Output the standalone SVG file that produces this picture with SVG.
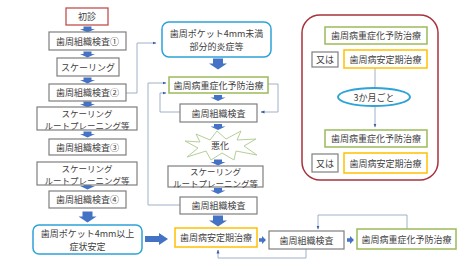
<svg xmlns="http://www.w3.org/2000/svg" width="474" height="266" viewBox="0 0 474 266">
<defs>
<style>
text{font-family:"Noto Sans CJK JP","Noto Sans",sans-serif;font-size:9px;fill:#404040;text-anchor:middle;dominant-baseline:central}
text.s{font-size:8.5px}
.box{fill:#fff;stroke:#7f7f7f;stroke-width:1.2}
.red{fill:#fff;stroke:#c0504d;stroke-width:1.3}
.grn{fill:#fff;stroke:#9bbb59;stroke-width:1.5}
.yel{fill:#fff;stroke:#ffc000;stroke-width:1.5}
.blu{fill:#fff;stroke:#2ea3d8;stroke-width:1.5}
.con{fill:none;stroke:#9fb0c6;stroke-width:1}
.arr{fill:#4472c4}
</style>
<marker id="ah" markerWidth="4" markerHeight="4" refX="3.5" refY="2" orient="auto" markerUnits="userSpaceOnUse">
<path d="M0,0.5 L4,2 L0,3.5 Z" fill="#3a5fa8"/>
</marker>
<path id="sd" d="M-4,0 H4 V2.5 H7.5 L0,6 L-7.5,2.5 H-4 Z"/>
<path id="bd" d="M-5,0 H5 V5 H9 L0,11 L-9,5 H-5 Z"/>
<path id="sr" d="M0,-1.8 H3 V-4 L7,0 L3,4 V1.8 H0 Z"/>
</defs>

<g id="connectors">
<path class="con" d="M126,93 H137 V43 H156" marker-end="url(#ah)"/>
<path class="con" d="M268,84 H278 V112 H261" marker-end="url(#ah)"/>
<path class="con" d="M180,112 H160 V93 H166" marker-end="url(#ah)"/>
<path class="con" d="M180,205 H148 V83 H166" marker-end="url(#ah)"/>
<path class="con" d="M306,249 V258 H218 V250" marker-end="url(#ah)"/>
<path class="con" d="M407,229 V215 H318 V229" marker-end="url(#ah)"/>
<path class="con" d="M375,68 V88"/>
<path class="con" d="M375,106 V127" marker-end="url(#ah)"/>
<g class="arr">
<use href="#sd" x="87.5" y="26.5"/>
<use href="#sd" x="87.5" y="51.5"/>
<use href="#sd" x="87.5" y="77.5"/>
<use href="#sd" x="87.5" y="101.5"/>
<use href="#sd" x="87.5" y="131.5"/>
<use href="#sd" x="87.5" y="183.5"/>
<use href="#bd" x="87.5" y="211.5"/>
<path d="M145,236 H159 V233 L168,239 L159,245 V242 H145 Z"/>
<use href="#bd" x="218" y="58.5"/>
<use href="#sd" x="218" y="95"/>
<use href="#sd" x="218" y="124"/>
<use href="#sd" x="218" y="159.5"/>
<use href="#sd" x="218" y="188"/>
<use href="#bd" x="218" y="215.5"/>
<use href="#sr" x="259" y="240"/>
<use href="#sr" x="347" y="240"/>
</g>
</g>

<g id="n-shoshin"><rect class="red" x="66" y="8" width="42" height="17"/><text x="87" y="16.5">初診</text></g>
<g id="n-kensa1"><rect class="box" x="49" y="32" width="77" height="18"/><text x="87.5" y="41">歯周組織検査①</text></g>
<g id="n-scaling1"><rect class="box" x="57" y="58" width="62" height="18"/><text x="88" y="67">スケーリング</text></g>
<g id="n-kensa2"><rect class="box" x="49" y="84" width="77" height="17"/><text x="87.5" y="92.5">歯周組織検査②</text></g>
<g id="n-srp1"><rect class="box" x="37" y="107" width="100" height="23"/><text class="s" x="87" y="112.5">スケーリング</text><text class="s" x="87" y="124.5">ルートプレーニング等</text></g>
<g id="n-kensa3"><rect class="box" x="49" y="139" width="77" height="16"/><text x="87.5" y="147">歯周組織検査③</text></g>
<g id="n-srp2"><rect class="box" x="37" y="162" width="100" height="23"/><text class="s" x="87" y="167.5">スケーリング</text><text class="s" x="87" y="179.5">ルートプレーニング等</text></g>
<g id="n-kensa4"><rect class="box" x="49" y="191" width="77" height="17"/><text x="87.5" y="199.5">歯周組織検査④</text></g>
<g id="n-ijo"><rect class="blu" x="33" y="225" width="109" height="29" rx="6"/><text x="87.5" y="233.5">歯周ポケット4mm以上</text><text x="87.5" y="246">症状安定</text></g>

<g id="n-miman"><rect class="blu" x="162" y="22" width="109" height="35" rx="7"/><text x="216.5" y="33">歯周ポケット4mm未満</text><text x="216.5" y="46">部分的炎症等</text></g>
<g id="n-juusho1"><rect class="grn" x="169" y="77" width="99" height="16"/><text x="218.5" y="85">歯周病重症化予防治療</text></g>
<g id="n-kensa5"><rect class="box" x="180" y="104" width="77" height="18"/><text x="218.5" y="113">歯周組織検査</text></g>
<g id="n-akka"><polygon points="196,134 210,140 217,131 226,139 241,131 237,140 256,139 244,146 257,155 236,151 234,160 222,153 211,160 206,151 187,157 198,148 185,141 200,142" fill="#fff" stroke="#b5cf9a" stroke-width="1"/><text x="220" y="145">悪化</text></g>
<g id="n-srp3"><rect class="box" x="168" y="166" width="95" height="21"/><text class="s" x="215.5" y="170.5">スケーリング</text><text class="s" x="215.5" y="182.5">ルートプレーニング等</text></g>
<g id="n-kensa6"><rect class="box" x="180" y="197" width="77" height="17"/><text x="218.5" y="205.5">歯周組織検査</text></g>
<g id="n-antei"><rect class="yel" x="175" y="228" width="82" height="19"/><text x="216" y="237.5">歯周病安定期治療</text></g>
<g id="n-kensa7"><rect class="box" x="269" y="231" width="75" height="18"/><text x="306.5" y="240">歯周組織検査</text></g>
<g id="n-juusho2"><rect class="grn" x="357" y="229" width="99" height="20"/><text x="406.5" y="239">歯周病重症化予防治療</text></g>

<g id="legend">
<rect x="302" y="15" width="136" height="165" rx="18" fill="none" stroke="#a8323e" stroke-width="1.5"/>
<g id="l-juusho1"><rect class="grn" x="325" y="27" width="102" height="17"/><text x="376" y="35.5">歯周病重症化予防治療</text></g>
<g id="l-mata1"><rect class="box" x="312" y="52" width="26" height="15"/><text x="325" y="59.5">又は</text></g>
<g id="l-antei1"><rect class="yel" x="344" y="50" width="83" height="18"/><text x="385.5" y="59">歯周病安定期治療</text></g>
<g id="l-3m"><ellipse cx="374" cy="97" rx="36" ry="9" fill="#fff" stroke="#2ea3d8" stroke-width="2"/><text x="374" y="97">3か月ごと</text></g>
<g id="l-juusho2"><rect class="grn" x="325" y="130" width="102" height="17"/><text x="376" y="138.5">歯周病重症化予防治療</text></g>
<g id="l-mata2"><rect class="box" x="312" y="154" width="26" height="18"/><text x="325" y="163">又は</text></g>
<g id="l-antei2"><rect class="yel" x="344" y="153" width="83" height="20"/><text x="385.5" y="163">歯周病安定期治療</text></g>
</g>
</svg>
